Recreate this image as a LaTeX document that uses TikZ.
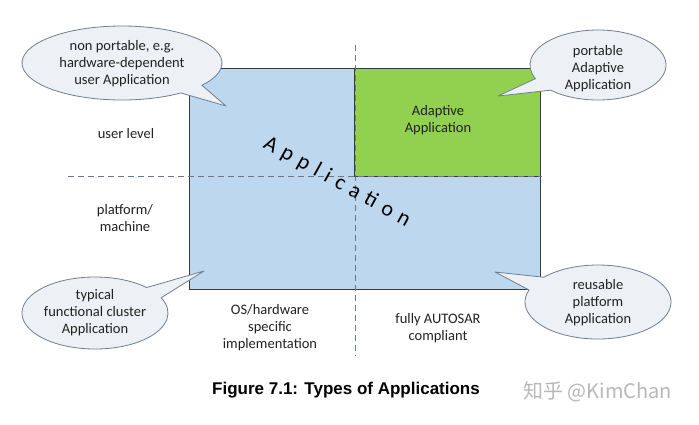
\documentclass[tikz,border=0pt]{standalone}
\usepackage{fontspec}
\usetikzlibrary{calc}
\setmainfont{Carlito}
\newfontfamily\titlefont{Liberation Sans}
\newfontfamily\bigfont[LetterSpace=32]{Carlito}
\newfontfamily\cjkfont{Noto Sans CJK SC}
\definecolor{boxblue}{HTML}{BDD7EE}
\definecolor{boxgreen}{HTML}{92D050}
\definecolor{boxline}{HTML}{3A3A3A}
\definecolor{callfill}{HTML}{EDF0F4}
\definecolor{callline}{HTML}{6F7F8F}
\definecolor{guidecol}{HTML}{6E7883}
\definecolor{txt}{HTML}{222222}
\definecolor{wmark}{HTML}{B8B8B8}
\begin{document}
\begin{tikzpicture}[x=1pt,y=1pt,
  lbl/.style={font=\fontsize{14.5}{17}\selectfont, align=center, text=txt, inner sep=0pt},
  callout/.style={fill=callfill, draw=callline, line width=0.8pt, line join=round},
  guide/.style={draw=guidecol, line width=1pt, dash pattern=on 6pt off 4pt},
  areabox/.style={draw=boxline, line width=0.8pt}]
\useasboundingbox (0,0) rectangle (699,-424);
\fill[white] (0,0) rectangle (699,-424);

% main areas
\draw[areabox, fill=boxblue] (189,-68) rectangle (540,-289);
\draw[areabox, fill=boxgreen] (354,-68) rectangle (540,-176);

% guide lines
\draw[guide] (68,-176) -- (542,-176);
\draw[guide] (355,-45) -- (355,-356);

% callouts
\coordinate (tipTL) at (226,-106);
\coordinate (tipTR) at (498,-96);
\coordinate (tipBL) at (204,-271);
\coordinate (tipBR) at (495,-272);

\draw[callout] ($(122,-63)+(-37:100pt and 37pt)$)
  arc[start angle=-37, end angle=306, x radius=100pt, y radius=37pt] -- (tipTL) -- cycle;
\draw[callout] ($(598,-65)+(-134:68pt and 35pt)$)
  arc[start angle=-134, end angle=203, x radius=68pt, y radius=35pt] -- (tipTR) -- cycle;
\draw[callout] ($(95,-313)+(45:73pt and 36pt)$)
  arc[start angle=45, end angle=385, x radius=73pt, y radius=36pt] -- (tipBL) -- cycle;
\draw[callout] ($(598,-302)+(161:73pt and 37pt)$)
  arc[start angle=161, end angle=498, x radius=73pt, y radius=37pt] -- (tipBR) -- cycle;

\node[lbl] (cTL) at (122,-64) {non portable, e.g.\\hardware-dependent\\user Application};
\node[lbl] (cTR) at (598,-69) {portable\\Adaptive\\Application};
\node[lbl] (cBL) at (95,-313) {typical\\functional cluster\\Application};
\node[lbl] (cBR) at (598,-303) {reusable\\platform\\Application};

% axis labels
\node[lbl] (user) at (126,-134) {user level};
\node[lbl] (plat) at (125,-218) {platform/\\machine};
\node[lbl] (os) at (270,-328) {OS/hardware\\specific\\implementation};
\node[lbl] (full) at (438,-328) {fully AUTOSAR\\compliant};
\node[lbl] (adapt) at (438,-120) {Adaptive\\Application};

% diagonal word
\node[font=\bigfont\fontsize{22}{26}\selectfont, text=black, rotate=-29, inner sep=0pt] (diag) at (337,-182) {Application};

% caption
\node[font=\titlefont\bfseries\fontsize{17}{20}\selectfont, text=black, inner sep=0pt] (cap) at (346,-390) {Figure 7.1: Types of Applications};
\node[font=\cjkfont\fontsize{20}{24}\selectfont, text=wmark, inner sep=0pt, anchor=west] (wm) at (523,-392) {知乎 @KimChan};
\end{tikzpicture}
\end{document}
